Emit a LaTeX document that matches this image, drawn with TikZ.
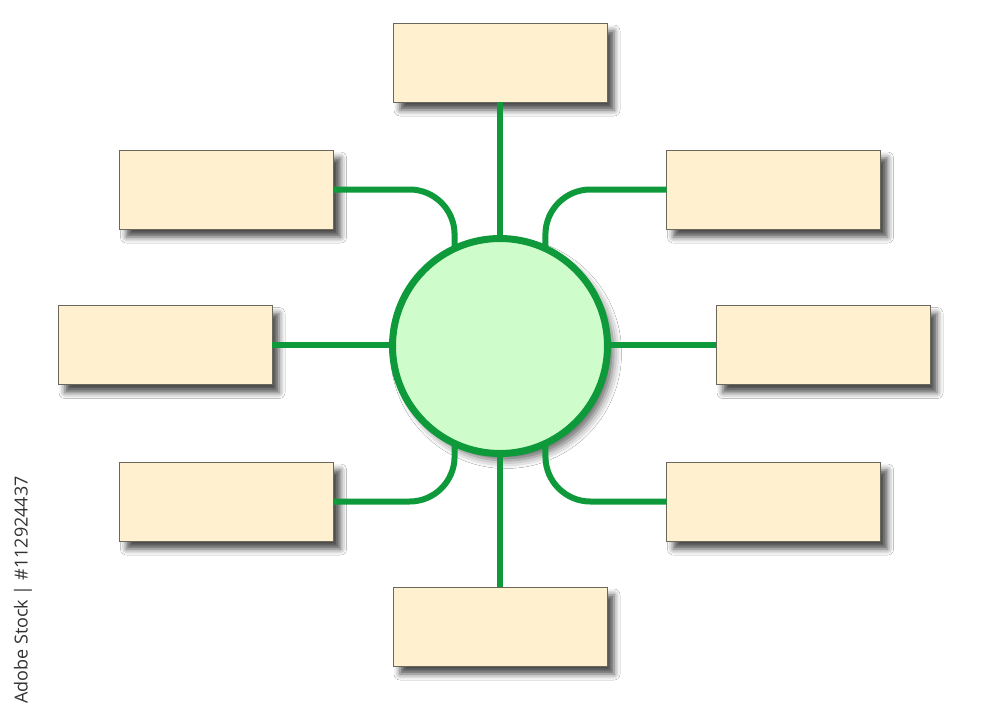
\documentclass[tikz,border=0pt]{standalone}
\usepackage{fontspec}
\newfontfamily\wmfont{Open Sans}
\usetikzlibrary{shadows.blur,calc}
\definecolor{boxfill}{HTML}{FFF0CF}
\definecolor{boxline}{HTML}{6B675C}
\definecolor{cfill}{HTML}{CFFCCB}
\definecolor{gline}{HTML}{0E9A3A}
\pgfdeclarelayer{bg}
\pgfsetlayers{bg,main}
\begin{document}
\begin{tikzpicture}[x=1pt,y=-1pt,
 box/.style={draw=boxline, line width=1pt, fill=boxfill, minimum width=214pt, minimum height=79pt, inner sep=0pt, outer sep=0pt,
   blur shadow={shadow xshift=7pt, shadow yshift=-8pt, shadow blur radius=6pt, shadow opacity=70}},
 hub/.style={circle, draw=gline, line width=7pt, fill=cfill, minimum size=215pt, inner sep=0pt, outer sep=0pt,
   blur shadow={shadow xshift=6pt, shadow yshift=-7pt, shadow blur radius=8pt, shadow opacity=60}},
 conn/.style={draw=gline, line width=6pt},
 connshadow/.style={draw=black, opacity=0.13, line width=10pt},
 connshadowin/.style={draw=black, opacity=0.15, line width=5pt}
]
\useasboundingbox (0,0) rectangle (1000,707);
\fill[white] (0,0) rectangle (1000,707);
\node[box] (top) at (500,62.5) {};
\node[box] (ul) at (226.5,189.5) {};
\node[box] (ur) at (773.5,189.5) {};
\node[box] (ml) at (165,345) {};
\node[box] (mr) at (823,345) {};
\node[box] (ll) at (226.5,501.5) {};
\node[box] (lr) at (773.5,501.5) {};
\node[box] (bot) at (500,626.5) {};
\node[hub] (c) at (500,346) {};
\begin{pgfonlayer}{bg}
\begin{scope}[xshift=5pt,yshift=-5pt]
\foreach \s in {connshadow,connshadowin}{
\draw[\s] (top.south) -- (c.north);
\draw[\s] (bot.north) -- (c.south);
\draw[\s] (ml.east) -- (ml.east -| c.west);
\draw[\s] (mr.west) -- (mr.west -| c.east);
\draw[\s, rounded corners=45pt] (ul.east) -- (ul.east -| c.115) -- (c.115);
\draw[\s, rounded corners=45pt] (ur.west) -- (ur.west -| c.65) -- (c.65);
\draw[\s, rounded corners=45pt] (ll.east) -- (ll.east -| c.245) -- (c.245);
\draw[\s, rounded corners=45pt] (lr.west) -- (lr.west -| c.295) -- (c.295);
}
\end{scope}
\end{pgfonlayer}
\draw[conn] (top.south) -- (c.north);
\draw[conn] (bot.north) -- (c.south);
\draw[conn] (ml.east) -- (ml.east -| c.west);
\draw[conn] (mr.west) -- (mr.west -| c.east);
\draw[conn, rounded corners=45pt] (ul.east) -- (ul.east -| c.115) -- (c.115);
\draw[conn, rounded corners=45pt] (ur.west) -- (ur.west -| c.65) -- (c.65);
\draw[conn, rounded corners=45pt] (ll.east) -- (ll.east -| c.245) -- (c.245);
\draw[conn, rounded corners=45pt] (lr.west) -- (lr.west -| c.295) -- (c.295);
\node[rotate=90, anchor=east, inner sep=0pt, text=black!80, font=\wmfont\fontsize{18}{20}\selectfont] (wm) at (23,476) {Adobe Stock | \#112924437};
\end{tikzpicture}
\end{document}
